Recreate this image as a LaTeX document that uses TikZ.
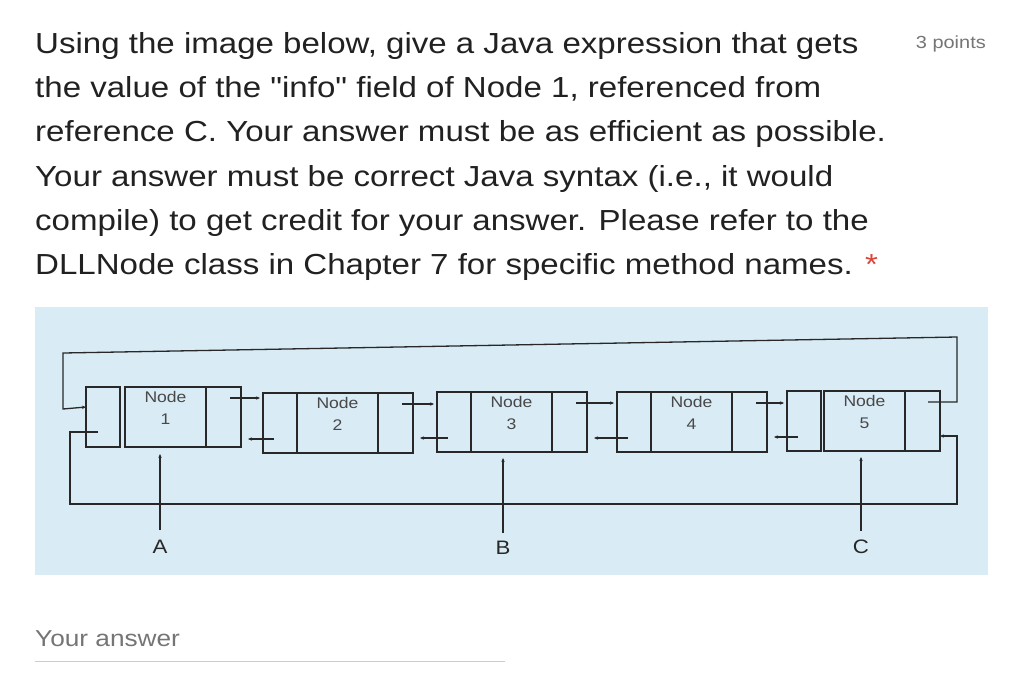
\documentclass[tikz,border=0pt]{standalone}
\usepackage{fontspec}
\setmainfont{Liberation Sans}[FakeStretch=1.14, Ligatures=TeXOff]
\usetikzlibrary{positioning, calc, arrows.meta}
\tikzset{>={Stealth[length=4pt,width=3.4pt]}}
\definecolor{panelblue}{RGB}{217,235,245}
\definecolor{inkgray}{RGB}{40,40,40}
\definecolor{qblack}{RGB}{33,33,33}
\definecolor{hintgray}{RGB}{117,117,117}
\definecolor{lightrule}{RGB}{205,205,205}
\definecolor{reqred}{RGB}{219,68,55}

\begin{document}
\begin{tikzpicture}[x=1pt, y=-1pt,
    qtext/.style={anchor=base west, inner sep=0pt, font=\fontsize{29}{35}\selectfont, text=qblack},
    field/.style={draw=inkgray, line width=1.3pt, minimum height=60pt, inner sep=0pt, outer sep=0pt},
    prevbox/.style={field, minimum width=34pt},
    infobox/.style={field, minimum width=81pt},
    nextbox/.style={field, minimum width=35pt},
    nodetext/.style={inner sep=0pt, align=center, text=inkgray!85, font=\fontsize{15.4}{22}\selectfont},
    divider/.style={draw=inkgray, line width=2.8pt},
    ptr/.style={->, draw=inkgray, line width=1.3pt},
    reflabel/.style={text=inkgray, font=\fontsize{19.5}{23}\selectfont}]
  \fill[white] (0,0) rectangle (1024,691);
  \useasboundingbox (0,0) rectangle (1024,691);
  % question
  \node[qtext] (q1) at (35,53) {Using the image below, give a Java expression that gets};
  \node[qtext] (q2) at (35,97) {the value of the "info" field of Node 1, referenced from};
  \node[qtext] (q3) at (35,141) {reference C. Your answer must be as efficient as possible.};
  \node[qtext] (q4) at (35,186) {Your answer must be correct Java syntax (i.e., it would};
  \node[qtext] (q5) at (35,230) {compile) to get credit for your answer. Please refer to the};
  \node[qtext] (q6) at (35,274) {DLLNode class in Chapter 7 for specific method names. \textcolor{reqred}{*}};
  \node[anchor=base east, inner sep=0pt, text=hintgray, font=\fontsize{17.5}{20}\selectfont] (pts) at (986,48) {3 points};
  % figure
  \fill[panelblue] (35,307) rectangle (988,575);
  \foreach \i/\x/\y/\g in {1/86/387/5pt, 2/263/393/0pt, 3/437/392/0pt, 4/617/392/0pt, 5/787/391/3pt}{
    \node[prevbox, anchor=north west] (prev\i) at (\x,\y) {};
    \node[infobox, right=\g of prev\i] (info\i) {};
    \node[nextbox, right=0pt of info\i] (next\i) {};
    \node[nodetext, below=4pt of info\i.north] (lbl\i) {Node\\\i};
    \draw[divider] (info\i.north east) -- (info\i.south east);
    \ifdim\g=0pt \draw[divider] (info\i.north west) -- (info\i.south west); \fi
  }
  \foreach \i/\j in {1/2, 2/3, 3/4, 4/5}{
    \draw[ptr, shorten >=3pt] ($(next\i.north west)+(24,11)$) coordinate (f\i) -- (f\i -| prev\j.west);
    \draw[ptr] ($(prev\j.south west)+(11,-14)$) coordinate (b\j) -- ($(b\j -| next\i.east)+(7,0)$);
  }
  % circular links
  \coordinate (tr) at (957,337);
  \coordinate (tl) at (63,353);
  \coordinate (br) at (957,504);
  \coordinate (bl) at (70,504);
  \coordinate (e5) at (957,436);
  \draw[ptr] ($(next5.north west)+(23,11)$) coordinate (s5) -- (s5 -| tr) -- (tr) -- (tl) -- ($(tl)+(0,56)$) -- ([yshift=10pt]prev1.west);
  \draw[ptr] ($(prev1.south west)+(12,-15)$) coordinate (s1) -- (s1 -| bl) -- (bl) -- (br) -- (e5) -- (e5 -| next5.east);
  % references
  \node[reflabel] (refA) at (160,547) {A};
  \node[reflabel] (refB) at (503,548) {B};
  \node[reflabel] (refC) at (861,547) {C};
  \draw[ptr, shorten >=7pt] ([yshift=7pt]refA.north) -- (refA.north |- info1.south);
  \draw[ptr, shorten >=6pt] ([yshift=5pt]refB.north) -- (refB.north |- info3.south);
  \draw[ptr, shorten >=6pt] ([yshift=6pt]refC.north) -- (refC.north |- info5.south);
  % answer field
  \node[anchor=base west, inner sep=0pt, text=hintgray, font=\fontsize{23}{27}\selectfont] (ans) at (35,646) {Your answer};
  \draw[lightrule, line width=1pt] (35,661) coordinate (u0) -- (505,661);
\end{tikzpicture}
\end{document}
